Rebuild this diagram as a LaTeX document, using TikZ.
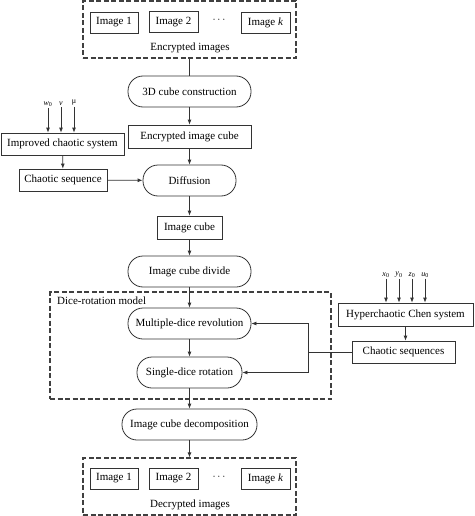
\documentclass[tikz,border=0pt]{standalone}
\usepackage{fontspec}
\setmainfont{Liberation Serif}
\usetikzlibrary{arrows.meta}

\colorlet{linegray}{black!80}
\tikzset{
	box/.style={draw=linegray, line width=0.8pt, minimum height=23pt, inner sep=0pt},
	pill/.style={draw=linegray, line width=0.8pt, rounded corners=15pt, minimum height=31pt, inner sep=0pt},
	frame/.style={draw=black!75, line width=1.2pt, dash pattern=on 5pt off 2.5pt, inner sep=0pt},
	arr/.style={-{Latex[length=5pt,width=4pt]}, draw=linegray, line width=0.8pt},
	link/.style={draw=linegray, line width=0.8pt},
	param/.style={font=\fontsize{8}{9}\selectfont, inner sep=1pt},
}

\begin{document}
\begin{tikzpicture}[x=1pt, y=-1pt, font=\fontsize{11}{13}\selectfont]
		\useasboundingbox (0,0) rectangle (474,516);
		% FRAMES
		\node[frame, minimum width=213pt, minimum height=57pt] (encframe) at (189.5,29.5) {};
		\node[box, minimum width=48pt, minimum height=21pt] (enc1) at (114,22.5) {Image 1};
		\node[box, minimum width=49pt, minimum height=21pt] (enc2) at (173.5,22) {Image 2};
		\node (encdots) at (219,20) {$\cdots$};
		\node[box, minimum width=49pt, minimum height=21pt] (enck) at (265.5,22.5) {Image \textit{k}};
		\node (enclabel) at (190,48) {Encrypted images};
		
		\node[frame, minimum width=281pt, minimum height=107pt] (diceframe) at (190.5,345.5) {};
		\node[anchor=west, inner sep=0pt] (dicelabel) at (57,301) {Dice-rotation model};
		
		\node[frame, minimum width=213pt, minimum height=57pt] (decframe) at (189.5,486.5) {};
		\node[box, minimum width=48pt, minimum height=21pt] (dec1) at (114,478.5) {Image 1};
		\node[box, minimum width=49pt, minimum height=21pt] (dec2) at (173.5,478.5) {Image 2};
		\node (decdots) at (219,477) {$\cdots$};
		\node[box, minimum width=49pt, minimum height=21pt] (deck) at (265.5,478.5) {Image \textit{k}};
		\node (declabel) at (190,505) {Decrypted images};
		
		% BLOCKS
		\node[pill, minimum width=123pt] (cube) at (189.5,91.5) {3D cube construction};
		\node[box, minimum width=123pt] (enccube) at (189.5,136.5) {Encrypted image cube};
		\node[box, minimum width=123pt, minimum height=22pt] (improved) at (62.5,144) {Improved chaotic system};
		\node[box, minimum width=88pt, minimum height=22pt] (chaoseq) at (63,180) {Chaotic sequence};
		\node[pill, minimum width=93pt] (diffusion) at (189.5,180.5) {Diffusion};
		\node[box, minimum width=65pt] (imgcube) at (189.5,227.5) {Image cube};
		\node[pill, minimum width=123pt] (divide) at (189.5,271.5) {Image cube divide};
		\node[pill, minimum width=123pt] (multi) at (189.5,323.5) {Multiple-dice revolution};
		\node[pill, minimum width=105pt] (single) at (189.5,372.5) {Single-dice rotation};
		\node[pill, minimum width=135pt] (decomp) at (189.5,424.5) {Image cube decomposition};
		\node[box, minimum width=135pt] (chen) at (405.5,314.5) {Hyperchaotic Chen system};
		\node[box, minimum width=103pt, minimum height=22pt] (chaoseqs) at (403.5,352) {Chaotic sequences};
		
		% PARAMETERS
		\node[param] (w0) at (48,104) {\textit{w}\textsubscript{0}};
		\node[param] (v0) at (61,104) {\textit{v}};
		\node[param] (mu0) at (74,103) {μ};
		\node[param] (x0) at (386,275) {\textit{x}\textsubscript{0}};
		\node[param] (y0) at (399,275) {\textit{y}\textsubscript{0}};
		\node[param] (z0) at (412,275) {\textit{z}\textsubscript{0}};
		\node[param] (u0) at (425,275) {\textit{u}\textsubscript{0}};
		\coordinate (split) at (308,352);
		
		% ARROWS
		\draw[link] (encframe.south) -- (cube.north);
		\draw[arr] (cube) -- (enccube);
		\draw[arr] (enccube) -- (diffusion);
		\draw[arr] (improved) -- (chaoseq);
		\draw[arr] (chaoseq) -- (diffusion);
		\draw[arr] (diffusion) -- (imgcube);
		\draw[arr] (imgcube) -- (divide);
		\draw[arr] (divide) -- (multi);
		\draw[arr] (multi) -- (single);
		\draw[arr] (single) -- (decomp);
		\draw[arr] (decomp) -- (decframe.north);
		\draw[arr] (w0.south) -- (w0.south |- improved.north);
		\draw[arr] (v0.south) -- (v0.south |- improved.north);
		\draw[arr] (mu0.south) -- (mu0.south |- improved.north);
		\draw[arr] (x0.south) -- (x0.south |- chen.north);
		\draw[arr] (y0.south) -- (y0.south |- chen.north);
		\draw[arr] (z0.south) -- (z0.south |- chen.north);
		\draw[arr] (u0.south) -- (u0.south |- chen.north);
		\draw[arr] (chen) -- (chen |- chaoseqs.north);
		\draw[link] (chaoseqs.west) -- (split);
		\draw[arr] (split) |- (multi.east);
		\draw[arr] (split) |- (single.east);
	\end{tikzpicture}
\end{document}
